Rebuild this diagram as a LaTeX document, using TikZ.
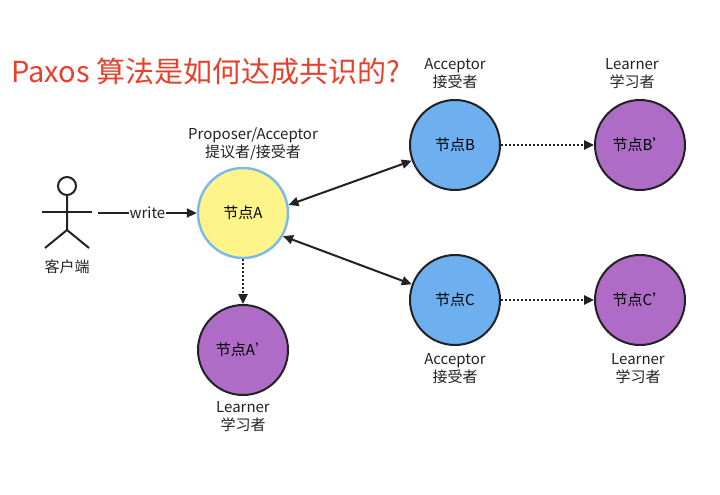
\documentclass[tikz,border=0pt]{standalone}
\usepackage{fontspec}
\setmainfont{Noto Sans CJK SC}
\usetikzlibrary{arrows.meta}
\definecolor{yel}{HTML}{FFF48A}
\definecolor{yelb}{HTML}{7AB8F0}
\definecolor{blu}{HTML}{6EAFF0}
\definecolor{pur}{HTML}{AE6CC6}
\definecolor{ttl}{HTML}{E8402A}
\definecolor{ln}{HTML}{222222}
\begin{document}
\begin{tikzpicture}[x=1pt,y=-1pt,
  nd/.style={circle,minimum size=90pt,inner sep=0pt,draw=ln,line width=2pt,font=\fontsize{15}{17}\selectfont},
  lb/.style={align=center,font=\fontsize{15}{18}\selectfont,text=ln},
  arr/.style={line width=2pt,draw=ln,-{Triangle[length=10pt,width=9pt]}},
  darr/.style={arr,{Triangle[length=10pt,width=9pt]}-{Triangle[length=10pt,width=9pt]}},
  dot/.style={arr,dotted,line width=2.4pt}]
\useasboundingbox (0,0) rectangle (720,495);
\fill[white] (0,0) rectangle (720,495);
\node[font=\fontsize{29}{32}\selectfont,text=ttl,anchor=west] (title) at (8,72) {Paxos 算法是如何达成共识的?};
\node[nd,fill=yel,draw=yelb,line width=2.4pt] (A) at (243,213) {节点A};
\node[nd,fill=blu] (B) at (455,145) {节点B};
\node[nd,fill=blu] (C) at (455,300) {节点C};
\node[nd,fill=pur] (Bp) at (640,145) {节点B’};
\node[nd,fill=pur] (Cp) at (640,300) {节点C’};
\node[nd,fill=pur] (Ap) at (243,350) {节点A’};
\node[lb] (lA) at (253,144) {Proposer/Acceptor\\提议者/接受者};
\node[lb] (lB) at (455,74) {Acceptor\\接受者};
\node[lb] (lC) at (455,369) {Acceptor\\接受者};
\node[lb] (lBp) at (632,74) {Learner\\学习者};
\node[lb] (lCp) at (638,369) {Learner\\学习者};
\node[lb] (lAp) at (243,417) {Learner\\学习者};
\begin{scope}[line width=2pt,draw=ln]
\node[circle,draw=ln,line width=2pt,minimum size=18pt,inner sep=0pt] (head) at (67,186) {};
\coordinate (hip) at (67,230);
\coordinate (la) at (42,212);
\coordinate (ra) at (92,212);
\coordinate (ll) at (45,248);
\coordinate (rl) at (89,248);
\draw (head.south) -- (hip) -- (ll);
\draw (hip) -- (rl);
\draw (la) -- (ra);
\end{scope}
\node[lb] (user) at (67,267) {客户端};
\coordinate (w0) at (98,213);
\draw[arr] (w0) -- node[fill=white,inner sep=1pt,lb]{write} (A);
\draw[darr] (A.10) -- (B.200);
\draw[darr] (A.-30) -- (C.160);
\draw[dot] (B) -- (Bp);
\draw[dot] (C) -- (Cp);
\draw[dot] (A) -- (Ap);
\end{tikzpicture}
\end{document}
